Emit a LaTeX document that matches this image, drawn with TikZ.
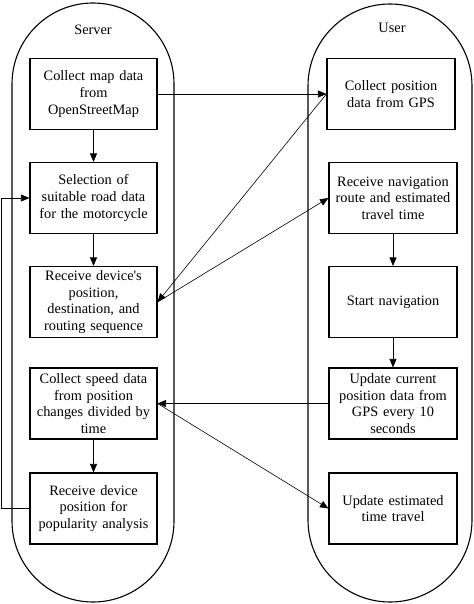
\documentclass[tikz,border=0pt]{standalone}
\usepackage{fontspec}
\setmainfont{Liberation Serif}
\usetikzlibrary{arrows.meta,positioning}
\begin{document}
\begin{tikzpicture}[x=1bp, y=-1bp, every node/.style={font=\fontsize{14.4}{16.7}\selectfont}]
% coordinates in pixels of the reference, y grows downwards

\tikzstyle{arrow} 	= [line width=0.6pt, color = black, -{Triangle[length=8.5pt, width=7pt]}] % define standard arrow
\tikzstyle{line} 	= [line width=0.6pt, color = black] % connector without tip
\tikzstyle{block} 	= [draw, line width=1.1pt, rectangle, minimum height = 71bp, minimum width = 127bp, text width = 124bp, align = center, inner sep = 1pt] % define block
\tikzstyle{lane} 	= [draw, line width=1.1pt] % define swim lane

\useasboundingbox (0,0) rectangle (474,604);

% swim lanes with titles
\draw[lane, rounded corners=81bp] (12,3) rectangle (174,602);
\draw[lane, rounded corners=82bp] (308,4) rectangle (472,602);
\node(srv)[] at (93,30){Server};
\node(usr)[] at (392,28){User};

% server blocks
\node(srv1)[block] at (93.5,94){Collect map data\\from\\OpenStreetMap};
\node(srv2)[block, below of=srv1, node distance=104bp]{Selection of\\suitable road data\\for the motorcycle};
\node(srv3)[block, below of=srv2, node distance=104bp]{Receive device\textquotesingle s\\position,\\destination, and\\routing sequence};
\node(srv4)[block, below of=srv3, node distance=101.5bp]{Collect speed data\\from position\\changes divided by\\time};
\node(srv5)[block, below of=srv4, node distance=105bp]{Receive device\\position for\\popularity analysis};

% user blocks
\node(usr1)[block, minimum width=128bp] at (391,94){Collect position\\data from GPS};
\node(usr2)[block, minimum width=128bp, below of=usr1, node distance=104bp, xshift=2bp]{Receive navigation\\route and estimated\\travel time};
\node(usr3)[block, minimum width=128bp, below of=usr2, node distance=104bp]{Start navigation};
\node(usr4)[block, minimum width=128bp, below of=usr3, node distance=101.5bp]{Update current\\position data from\\GPS every 10\\seconds};
\node(usr5)[block, minimum width=128bp, below of=usr4, node distance=105bp]{Update estimated\\time travel};

% arrows inside the lanes
\draw[arrow](srv1)--(srv2);
\draw[arrow](srv2)--(srv3);
\draw[arrow](srv4)--(srv5);
\draw[arrow](usr2)--(usr3);
\draw[arrow](usr3)--(usr4);

% arrows between the lanes
\draw[arrow](srv1.east)--(usr1.west);
\draw[arrow](usr1.west)--(srv3.east);
\draw[arrow](srv3.east)--(usr2.west);
\draw[arrow](usr4.west)--(srv4.east);
\draw[arrow](srv4.east)--(usr5.west);

% feedback loop
\coordinate(loop) at (1,508.5);
\draw[line](srv5.west)--(loop);
\draw[arrow](loop)|-(srv2.west);
\end{tikzpicture}
\end{document}
